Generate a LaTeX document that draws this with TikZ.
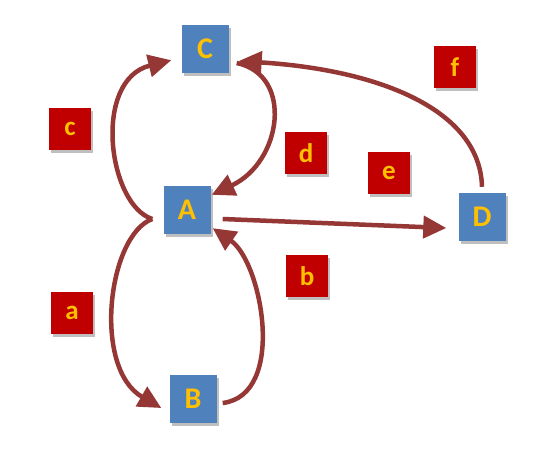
\documentclass[tikz,border=0pt]{standalone}
\usepackage{fontspec}
\setmainfont{Carlito}
\usetikzlibrary{arrows.meta,shadows,calc}
\definecolor{boxblue}{HTML}{4F81BD}
\definecolor{boxred}{HTML}{C00000}
\definecolor{gold}{HTML}{FFC000}
\definecolor{arrowred}{HTML}{953735}
\begin{document}
\begin{tikzpicture}[x=1pt,y=-1pt,
  boxshadow/.style={drop shadow={shadow xshift=2pt,shadow yshift=-3pt,opacity=0.25,fill=black}},
  bluebox/.style={boxshadow,fill=boxblue,minimum width=47pt,minimum height=48pt,inner sep=0pt,text=gold,font=\fontsize{30}{30}\selectfont\bfseries},
  redbox/.style={boxshadow,fill=boxred,minimum width=42pt,minimum height=42pt,inner sep=0pt,text=gold,font=\fontsize{27}{27}\selectfont\bfseries},
  link/.style={draw=arrowred,line width=4.5pt,-{Triangle[length=23pt,width=22pt]}}
]
\useasboundingbox (0,0) rectangle (538,448);
\fill[white] (0,0) rectangle (538,448);
% blue nodes
\node[bluebox] (C) at (205,49) {C};
\node[bluebox] (A) at (187,210) {A};
\node[bluebox] (B) at (193,399) {B};
\node[bluebox] (D) at (482,217) {D};
% red labels
\node[redbox] (lf) at (455,67) {f};
\node[redbox] (ld) at (306,153) {d};
\node[redbox] (le) at (389,173) {e};
\node[redbox] (lc) at (70,129) {c};
\node[redbox] (lb) at (307,276) {b};
\node[redbox] (la) at (72,313) {a};
% junction left of A
\coordinate (J) at ($(A.west)+(-11,9)$);
% connectors
\draw[link] (J) .. controls (108,205) and (92,80) .. ($(C.south west)+(-10,-13)$);
\draw[link] (J) .. controls (108,235) and (92,368) .. ($(B.west)+(-8,9)$);
\draw[link] ($(B.east)+(6,4)$) .. controls (287,395) and (262,262) .. ($(A.south east)+(2,-6)$);
\draw[link] ($(C.east)+(8,14)$) .. controls (294,75) and (282,162) .. ($(A.north east)+(1,9)$);
\draw[link] ($(A.east)+(12,9)$) -- ($(D.west)+(-12,11)$);
\draw[link] ($(D.north)+(0,-6)$) .. controls (480,110) and (380,70) .. ($(C.east)+(10,12)$);
\end{tikzpicture}
\end{document}
